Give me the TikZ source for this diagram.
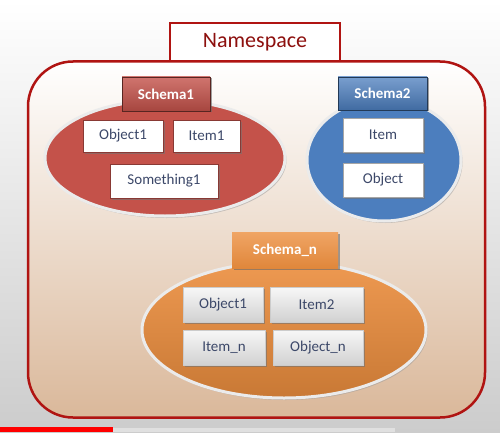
\documentclass[tikz,border=0pt]{standalone}
\usepackage{fontspec}
\setmainfont{Carlito}
\usetikzlibrary{shapes.geometric,shadows}
\definecolor{nsred}{RGB}{176,20,18}
\definecolor{txt}{RGB}{60,72,105}
\definecolor{sred}{RGB}{196,82,74}
\definecolor{sblue}{RGB}{76,126,190}
\definecolor{sorange}{RGB}{236,142,62}
\definecolor{peach}{RGB}{218,184,154}
\tikzset{
  itembox/.style={draw=black!35, line width=0.6pt, fill=white, text=txt,
    font=\fontsize{15}{17}\selectfont, inner sep=0pt,
    drop shadow={shadow xshift=2pt, shadow yshift=-2pt, fill=black!55, opacity=0.6}},
  greybox/.style={itembox, draw=black!20, top color=black!3, bottom color=black!18},
  redbox/.style={itembox, draw=sred!70!black},
  label/.style={text=white, font=\bfseries\fontsize{15}{17}\selectfont, inner sep=0pt,
    line width=0.8pt, drop shadow={shadow xshift=1.5pt, shadow yshift=-1.5pt, fill=black!60, opacity=0.6}},
  schemaell/.style={ellipse, draw=white!92!black, line width=3pt, inner sep=0pt,
    drop shadow={shadow xshift=1.5pt, shadow yshift=-2pt, fill=black!40, opacity=0.5}},
}
\begin{document}
\begin{tikzpicture}[x=1pt,y=-1pt]
\useasboundingbox (0,0) rectangle (500,433);
% background
\shade[top color=white, middle color=white, bottom color=black!20] (0,0) rectangle (500,433);
% progress bar
\fill[black!12] (113,428) rectangle (395,432);
\fill[red] (0,427) rectangle (113,432);
% outer namespace body
\node[draw=nsred, line width=2.5pt, rounded corners=45pt, minimum width=457pt, minimum height=356pt,
  top color=white, bottom color=peach, inner sep=0pt] (body) at (256.5,239.5) {};
\node[draw=nsred, line width=2.5pt, fill=white, minimum width=170pt, minimum height=38pt,
  inner sep=0pt, text=nsred!80!black, font=\fontsize{22}{24}\selectfont] (ns) at (255,42) {Namespace};
% ellipses
\node[schemaell, fill=sred, minimum width=240pt, minimum height=116pt] (e1) at (165,158) {};
\node[schemaell, fill=sblue, minimum width=154pt, minimum height=122pt] (e2) at (384,160) {};
\node[schemaell, top color=sorange!90!white, bottom color=sorange!85!black, minimum width=284pt, minimum height=136pt] (e3) at (284,330) {};
% schema labels
\node[label, draw=sred!45!black, top color=sred!80!white, bottom color=sred!85!black,
  minimum width=88pt, minimum height=34pt] (s1) at (166,94) {Schema1};
\node[label, draw=sblue!45!black, top color=sblue!75!white, bottom color=sblue!85!black,
  minimum width=89pt, minimum height=33pt] (s2) at (382.5,93.5) {Schema2};
\node[label, draw=none, top color=sorange!80!white, bottom color=sorange!95!black,
  minimum width=106pt, minimum height=36pt] (sn) at (285,250) {Schema\_n};
% schema1 items
\node[redbox, minimum width=80pt, minimum height=32pt] (o1) at (123,136) {Object1};
\node[redbox, minimum width=67pt, minimum height=32pt] (i1) at (206.5,136) {Item1};
\node[redbox, minimum width=108pt, minimum height=34pt] (so1) at (164,181) {Something1};
% schema2 items
\node[itembox, minimum width=80pt, minimum height=34pt] (i2) at (383,135) {Item};
\node[itembox, minimum width=80pt, minimum height=34pt] (o2) at (383,180) {Object};
% schema_n items
\node[greybox, minimum width=80pt, minimum height=35pt] (on1) at (223,304.5) {Object1};
\node[greybox, minimum width=93pt, minimum height=35pt] (in2) at (316.5,304.5) {Item2};
\node[greybox, minimum width=82pt, minimum height=35pt] (inn) at (224,347.5) {Item\_n};
\node[greybox, minimum width=90pt, minimum height=35pt] (onn) at (318,347.5) {Object\_n};
\end{tikzpicture}
\end{document}
